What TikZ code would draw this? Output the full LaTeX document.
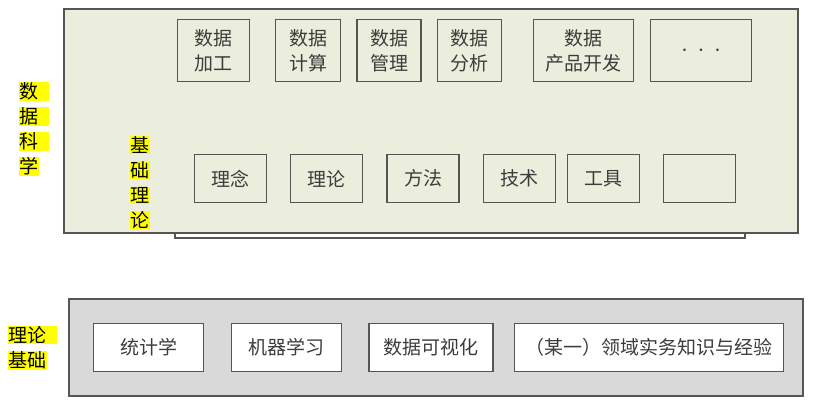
\documentclass[tikz,border=0pt]{standalone}
\usepackage{fontspec}
\newfontfamily\cjk{Noto Sans CJK SC}
\usetikzlibrary{positioning}
\definecolor{panelgreen}{RGB}{235, 238, 221}
\definecolor{panelgray}{RGB}{217, 217, 217}
\definecolor{edgegray}{RGB}{85, 85, 85}
\definecolor{inkgray}{RGB}{60, 60, 60}
\definecolor{marker}{RGB}{255, 255, 0}
\newcommand{\hl}[1]{{\setlength{\fboxsep}{0.5pt}\colorbox{marker}{#1}}}

\begin{document}
\begin{tikzpicture}[
    x=1pt, y=-1pt,
    every node/.style={font=\cjk\fontsize{19}{25}\selectfont, text=inkgray, inner sep=0pt},
    panel/.style={draw=edgegray, line width=1.2pt},
    box/.style={draw=edgegray, line width=1.2pt, align=center},
    topbox/.style={box, minimum height=62pt},
    basebox/.style={box, minimum height=48pt, minimum width=72pt},
    footbox/.style={box, fill=white, minimum height=48pt},
    tag/.style={text=black, align=left, anchor=north west}
]
    \useasboundingbox (0,0) rectangle (816,409);

    \draw[panel, fill=white] (175,200) rectangle (745,238);
    \draw[panel, fill=panelgreen] (64,9) rectangle (798,233);
    \draw[panel, fill=panelgray] (69,299) rectangle (803,396);

    \node[topbox, minimum width=72pt, anchor=north west] (jiagong) at (177,19) {数据\\加工};
    \node[topbox, minimum width=65pt, right=25pt of jiagong] (jisuan) {数据\\计算};
    \node[topbox, minimum width=64pt, right=15pt of jisuan] (guanli) {数据\\管理};
    \node[topbox, minimum width=64pt, right=15pt of guanli] (fenxi) {数据\\分析};
    \node[topbox, minimum width=100pt, right=31pt of fenxi] (kaifa) {数据\\产品开发};
    \node[topbox, minimum width=101pt, right=16pt of kaifa] (more) {\fontsize{26}{26}\selectfont$\cdot\,\cdot\,\cdot$};

    \node[basebox, anchor=north west] (linian) at (194,154) {理念};
    \node[basebox, right=23pt of linian] (lilun) {理论};
    \node[basebox, right=23pt of lilun] (fangfa) {方法};
    \node[basebox, right=23pt of fangfa] (jishu) {技术};
    \node[basebox, right=11pt of jishu] (gongju) {工具};
    \node[basebox, right=23pt of gongju] (blank) {};

    \node[footbox, minimum width=110pt, anchor=north west] (tongji) at (93,323) {统计学};
    \node[footbox, minimum width=110pt, right=27pt of tongji] (jiqi) {机器学习};
    \node[footbox, minimum width=124pt, right=26pt of jiqi] (keshi) {数据可视化};
    \node[footbox, minimum width=269pt, right=20pt of keshi] (lingyu) {（某一）领域实务知识与经验};

    \node[tag] (kexue) at (19,82) {\hl{数\kern10pt}\\\hl{据\kern10pt}\\\hl{科\kern10pt}\\\hl{学}};
    \node[tag] (jichu) at (130,136) {\hl{基}\\\hl{础}\\\hl{理}\\\hl{论}};
    \node[tag] (lilunjichu) at (8,326) {\hl{理论\kern10pt}\\\hl{基础}};
\end{tikzpicture}
\end{document}
